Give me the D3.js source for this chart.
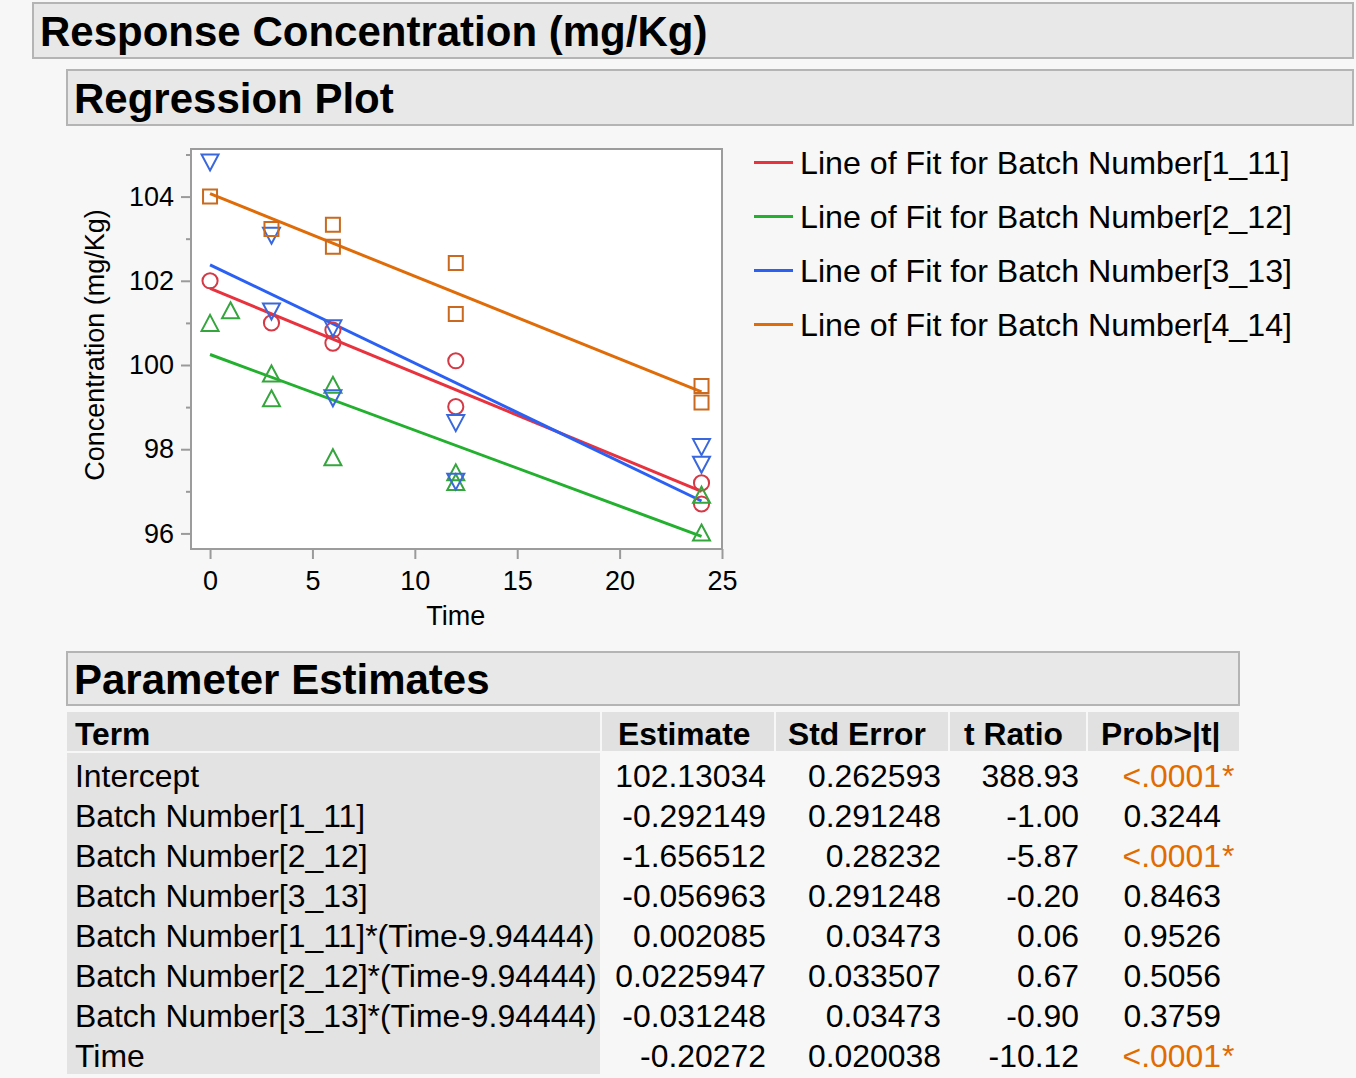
<!DOCTYPE html>
<html>
<head>
<meta charset="utf-8">
<script src="https://cdn.jsdelivr.net/npm/d3@7"></script>
<style>
  html, body { margin: 0; padding: 0; background: #f7f7f7; }
  svg { display: block; font-family: "Liberation Sans", Arial, Helvetica, sans-serif; }
</style>
</head>
<body>
<svg id="chart" width="1356" height="1078"></svg>
<script>
// ---------------- DATA ----------------
const batchNames = ["1_11", "2_12", "3_13", "4_14"];

const b1Time = [0, 3, 6, 6, 12, 12, 24, 24];
const b1Conc = [102.0, 101.0, 100.83, 100.52, 100.1, 99.01, 97.2, 96.7];
const b2Time = [0, 1, 3, 3, 6, 6, 12, 12, 24, 24];
const b2Conc = [101.0, 101.3, 99.8, 99.21, 99.53, 97.81, 97.45, 97.22, 96.92, 96.02];
const b3Time = [0, 3, 3, 6, 6, 12, 12, 24, 24];
const b3Conc = [104.81, 103.07, 101.27, 100.87, 99.21, 98.62, 97.23, 98.05, 97.63];
const b4Time = [0, 3, 6, 6, 12, 12, 24, 24];
const b4Conc = [104.0, 103.23, 103.33, 102.81, 102.42, 101.21, 99.5, 99.11];

// line of fit values at Time = 0 and Time = 24
const fitTime = [0, 24];
const fit1 = [101.82, 97.00];
const fit2 = [100.25, 95.93];
const fit3 = [102.38, 96.77];
const fit4 = [104.07, 99.36];

const xTicks = [0, 5, 10, 15, 20, 25];
const yTicks = [96, 98, 100, 102, 104];
const yMinorTicks = [97, 99, 101, 103, 105];

const terms = ["Intercept", "Batch Number[1_11]", "Batch Number[2_12]", "Batch Number[3_13]",
  "Batch Number[1_11]*(Time-9.94444)", "Batch Number[2_12]*(Time-9.94444)",
  "Batch Number[3_13]*(Time-9.94444)", "Time"];
const estimates = ["102.13034", "-0.292149", "-1.656512", "-0.056963", "0.002085", "0.0225947", "-0.031248", "-0.20272"];
const stdErrors = ["0.262593", "0.291248", "0.28232", "0.291248", "0.03473", "0.033507", "0.03473", "0.020038"];
const tRatios = ["388.93", "-1.00", "-5.87", "-0.20", "0.06", "0.67", "-0.90", "-10.12"];
const probs = ["<.0001", "0.3244", "<.0001", "0.8463", "0.9526", "0.5056", "0.3759", "<.0001"];
const signif = [true, false, true, false, false, false, false, true];
const headers = ["Term", "Estimate", "Std Error", "t Ratio", "Prob>|t|"];

// ---------------- STYLE ----------------
const lineColors = ["#e8323e", "#22b02e", "#2b60f5", "#e06c08"];
const markColors = ["#d33a46", "#35a53d", "#3a68dc", "#c96a1e"];

const svg = d3.select("#chart");

// header boxes
function headBox(x, y, w, h, label) {
  svg.append("rect").attr("x", x).attr("y", y).attr("width", w).attr("height", h)
    .attr("fill", "#e8e8e8").attr("stroke", "#b4b4b4").attr("stroke-width", 2);
  svg.append("text").attr("x", x + 7).attr("y", y + h / 2 + 15)
    .attr("font-size", 42).attr("font-weight", "bold").attr("fill", "#000").text(label);
}
headBox(33, 3, 1320, 55, "Response Concentration (mg/Kg)");
headBox(67, 70, 1286, 55, "Regression Plot");

// ---------------- PLOT ----------------
const frame = { left: 191, right: 722, top: 149, bottom: 549 };
const x = d3.scaleLinear().domain([-0.93, 25]).range([frame.left, frame.right]);
const y = d3.scaleLinear().domain([95.63, 105.13]).range([frame.bottom, frame.top]);

svg.append("rect").attr("x", frame.left).attr("y", frame.top)
  .attr("width", frame.right - frame.left).attr("height", frame.bottom - frame.top)
  .attr("fill", "#ffffff");

const yAxis = d3.axisLeft(y).tickValues(yTicks).tickSize(10).tickPadding(7).tickFormat(d3.format("d"));
const gy = svg.append("g").attr("transform", `translate(${frame.left},0)`).call(yAxis);
const yMinor = d3.axisLeft(y).tickValues(yMinorTicks.filter(v => y(v) > frame.top)).tickSize(5).tickFormat("");
const gym = svg.append("g").attr("transform", `translate(${frame.left},0)`).call(yMinor);

const xAxis = d3.axisBottom(x).tickValues(xTicks).tickSize(10).tickPadding(12).tickFormat(d3.format("d"));
const gx = svg.append("g").attr("transform", `translate(0,${frame.bottom})`).call(xAxis);

[gy, gym, gx].forEach(g => {
  g.select(".domain").remove();
  g.selectAll(".tick line").attr("stroke", "#9a9a9a").attr("stroke-width", 2);
  g.selectAll(".tick text").attr("font-size", 27).attr("fill", "#000")
    .attr("font-family", "'Liberation Sans', Arial, sans-serif");
});

svg.append("rect").attr("x", frame.left).attr("y", frame.top)
  .attr("width", frame.right - frame.left).attr("height", frame.bottom - frame.top)
  .attr("fill", "none").attr("stroke", "#9c9c9c").attr("stroke-width", 2);

svg.append("text").attr("x", x(12)).attr("y", 625).attr("text-anchor", "middle")
  .attr("font-size", 27).attr("fill", "#000").text("Time");
svg.append("text").attr("transform", `translate(104,${(frame.top + frame.bottom) / 2 - 4}) rotate(-90)`)
  .attr("text-anchor", "middle").attr("font-size", 27).attr("fill", "#000").text("Concentration (mg/Kg)");

// markers
const triUp = { draw(ctx, size) { const w = 17, h = 16; ctx.moveTo(0, -h / 2); ctx.lineTo(w / 2, h / 2); ctx.lineTo(-w / 2, h / 2); ctx.closePath(); } };
const triDown = { draw(ctx, size) { const w = 17, h = 16; ctx.moveTo(0, h / 2); ctx.lineTo(w / 2, -h / 2); ctx.lineTo(-w / 2, -h / 2); ctx.closePath(); } };
const symbolTypes = [d3.symbolCircle, triUp, triDown, d3.symbolSquare];
const symbolSizes = [180, 0, 0, 196];

const plotG = svg.append("g");
const fits = [fit1, fit2, fit3, fit4];
const line = d3.line().x(d => x(d[0])).y(d => y(d[1]));
fits.forEach((f, i) => {
  plotG.append("path").datum(fitTime.map((t, k) => [t, f[k]]))
    .attr("d", line).attr("fill", "none").attr("stroke", lineColors[i]).attr("stroke-width", 3);
});

const batches = [[b1Time, b1Conc], [b2Time, b2Conc], [b3Time, b3Conc], [b4Time, b4Conc]];
batches.forEach(([ts, vs], i) => {
  const sym = d3.symbol().type(symbolTypes[i]).size(symbolSizes[i]);
  plotG.selectAll(null).data(ts.map((t, k) => [t, vs[k]])).enter().append("path")
    .attr("transform", d => `translate(${x(d[0])},${y(d[1])})`)
    .attr("d", sym).attr("fill", "none").attr("stroke", markColors[i]).attr("stroke-width", 2);
});

// legend
batchNames.forEach((b, i) => {
  const ly = 162.5 + i * 54;
  svg.append("line").attr("x1", 754).attr("x2", 793).attr("y1", ly).attr("y2", ly)
    .attr("stroke", lineColors[i]).attr("stroke-width", 3);
  svg.append("text").attr("x", 800).attr("y", ly + 11).attr("font-size", 32.2).attr("fill", "#000")
    .text(`Line of Fit for Batch Number[${b}]`);
});

// ---------------- TABLE ----------------
headBox(67, 652, 1172, 53, "Parameter Estimates");

const colEdges = [67, 601, 775, 949, 1087, 1239];
const headTop = 712, headBot = 752, rowPitch = 40, firstBase = 786.5;
const bodyBot = 1074;

svg.append("rect").attr("x", colEdges[0]).attr("y", headTop).attr("width", colEdges[5] - colEdges[0])
  .attr("height", headBot - headTop).attr("fill", "#e1e1e1");
svg.append("rect").attr("x", colEdges[0]).attr("y", headBot + 1).attr("width", colEdges[1] - colEdges[0])
  .attr("height", bodyBot - headBot - 1).attr("fill", "#e3e3e3");
// separators
colEdges.slice(1, 5).forEach(cx => {
  svg.append("line").attr("x1", cx).attr("x2", cx).attr("y1", headTop).attr("y2", cx === colEdges[1] ? bodyBot : headBot)
    .attr("stroke", "#f7f7f7").attr("stroke-width", 2);
});
svg.append("line").attr("x1", colEdges[0]).attr("x2", colEdges[5]).attr("y1", headBot).attr("y2", headBot)
  .attr("stroke", "#f7f7f7").attr("stroke-width", 2);

const headX = [75, 618, 788, 964, 1101];
headers.forEach((h, i) => {
  svg.append("text").attr("x", headX[i]).attr("y", 745).attr("font-size", 31.8).attr("font-weight", "bold")
    .attr("fill", "#000").text(h);
});

const rightX = [766, 941, 1079, 1221];
terms.forEach((t, r) => {
  const by = firstBase + r * rowPitch;
  svg.append("text").attr("x", 75).attr("y", by).attr("font-size", 31.9).attr("fill", "#000").text(t);
  [estimates, stdErrors, tRatios].forEach((col, c) => {
    svg.append("text").attr("x", rightX[c]).attr("y", by).attr("text-anchor", "end")
      .attr("font-size", 31.9).attr("fill", "#000").text(col[r]);
  });
  const col = signif[r] ? "#e06c00" : "#000";
  svg.append("text").attr("x", rightX[3]).attr("y", by).attr("text-anchor", "end")
    .attr("font-size", 31.9).attr("fill", col).text(probs[r]);
  if (signif[r]) {
    svg.append("text").attr("x", rightX[3] + 1).attr("y", by).attr("font-size", 31.9).attr("fill", col).text("*");
  }
});
</script>
</body>
</html>
